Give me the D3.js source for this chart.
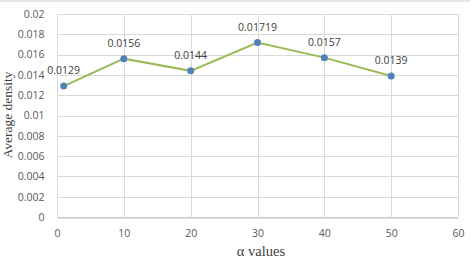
<!DOCTYPE html>
<html>
<head>
<meta charset="utf-8">
<script src="https://cdn.jsdelivr.net/npm/d3@7"></script>
<style>
  body { margin: 0; background: #fff; }
  svg { display: block; }
  .tick text { font-family: "Open Sans", "Liberation Sans", sans-serif; font-size: 10.5px; fill: #595959; }
</style>
</head>
<body>
<div id="chart-area"></div>
<script>
// data
var alphaValues = [1, 10, 20, 30, 40, 50];
var densityValues = [0.0129, 0.0156, 0.0144, 0.01719, 0.0157, 0.0139];
var densityLabels = ["0.0129", "0.0156", "0.0144", "0.01719", "0.0157", "0.0139"];
var xTicks = [0, 10, 20, 30, 40, 50, 60];
var yTicks = [0, 0.002, 0.004, 0.006, 0.008, 0.01, 0.012, 0.014, 0.016, 0.018, 0.02];

var width = 474, height = 262;
var margin = {top: 14, right: 16, bottom: 45, left: 57};

var svg = d3.select("#chart-area")
  .append("svg")
  .attr("width", width)
  .attr("height", height);

// faint frame line at the top
svg.append("rect")
  .attr("x", 0).attr("y", 0)
  .attr("width", 470).attr("height", 2)
  .attr("fill", "#e6e6e6");

var xScale = d3.scaleLinear()
  .domain([0, 60])
  .range([margin.left, width - margin.right]);

var yScale = d3.scaleLinear()
  .domain([0, 0.02])
  .range([height - margin.bottom, margin.top]);

// grid lines
svg.append("g")
  .selectAll("line.h")
  .data(yTicks)
  .enter()
  .append("line")
  .attr("x1", xScale(0))
  .attr("x2", xScale(60))
  .attr("y1", function(d) { return Math.round(yScale(d)) + 0.5; })
  .attr("y2", function(d) { return Math.round(yScale(d)) + 0.5; })
  .attr("stroke", "#d9d9d9");

svg.append("g")
  .selectAll("line.v")
  .data(xTicks)
  .enter()
  .append("line")
  .attr("x1", function(d) { return Math.round(xScale(d)) + 0.5; })
  .attr("x2", function(d) { return Math.round(xScale(d)) + 0.5; })
  .attr("y1", yScale(0.02))
  .attr("y2", yScale(0))
  .attr("stroke", "#d9d9d9");

// axes
var xAxis = d3.axisBottom(xScale).tickValues(xTicks).tickSize(0).tickPadding(12);
var yAxis = d3.axisLeft(yScale).tickValues(yTicks).tickSize(0).tickPadding(13)
  .tickFormat(function(d) { return d === 0 ? "0" : String(+d.toFixed(3)); });

var gx = svg.append("g")
  .attr("transform", "translate(0," + (Math.round(yScale(0)) + 0.5) + ")")
  .call(xAxis);
gx.select(".domain").attr("stroke", "#bfbfbf");

var gy = svg.append("g")
  .attr("transform", "translate(" + (Math.round(xScale(0)) + 0.5) + ",0)")
  .call(yAxis);
gy.select(".domain").remove();

// axis titles
svg.append("text")
  .attr("x", 261)
  .attr("y", 256)
  .attr("text-anchor", "middle")
  .attr("font-family", "'Liberation Serif', 'DejaVu Serif', serif")
  .attr("font-size", "14.5px")
  .attr("fill", "#404040")
  .text("α values");

svg.append("text")
  .attr("transform", "translate(12,115) rotate(-90)")
  .attr("text-anchor", "middle")
  .attr("font-family", "'Liberation Serif', 'DejaVu Serif', serif")
  .attr("font-size", "13.5px")
  .attr("fill", "#404040")
  .text("Average density");

// line
var points = alphaValues.map(function(a, i) { return {x: a, y: densityValues[i], label: densityLabels[i]}; });

var line = d3.line()
  .x(function(d) { return xScale(d.x); })
  .y(function(d) { return yScale(d.y); });

svg.append("path")
  .datum(points)
  .attr("d", line)
  .attr("fill", "none")
  .attr("stroke", "#9bbb59")
  .attr("stroke-width", 2);

svg.selectAll("circle")
  .data(points)
  .enter()
  .append("circle")
  .attr("cx", function(d) { return xScale(d.x); })
  .attr("cy", function(d) { return yScale(d.y); })
  .attr("r", 3.5)
  .attr("fill", "#4f81bd");

svg.selectAll("text.label")
  .data(points)
  .enter()
  .append("text")
  .attr("class", "label")
  .attr("x", function(d) { return xScale(d.x); })
  .attr("y", function(d) { return yScale(d.y) - 12; })
  .attr("text-anchor", "middle")
  .attr("font-family", "'Open Sans', 'Liberation Sans', sans-serif")
  .attr("font-size", "10.5px")
  .attr("fill", "#404040")
  .text(function(d) { return d.label; });
</script>
</body>
</html>
